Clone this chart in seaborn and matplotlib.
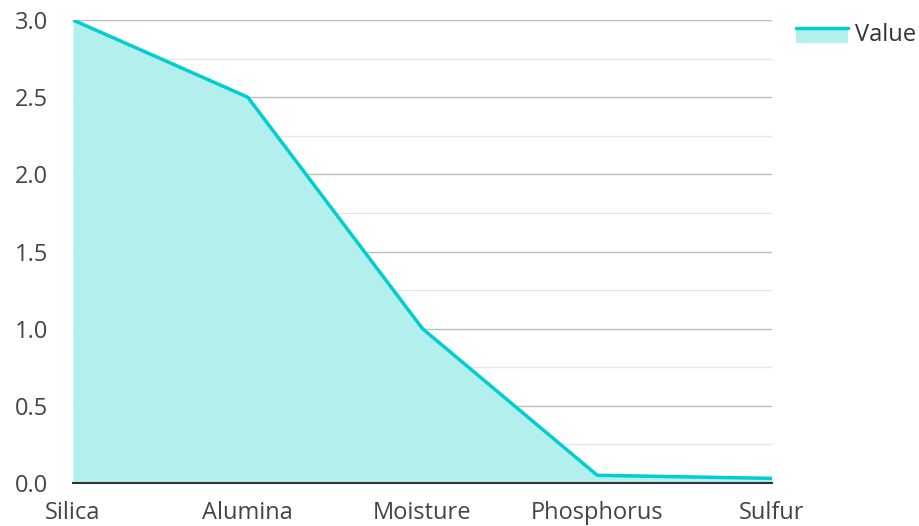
import matplotlib.pyplot as plt
import matplotlib.patches as mpatches
import matplotlib.lines as mlines
from matplotlib.legend_handler import HandlerBase
from matplotlib.ticker import MultipleLocator
import seaborn as sns
import pandas as pd
import numpy as np

categories = ['Silica', 'Alumina', 'Moisture', 'Phosphorus', 'Sulfur']
values = [3.0, 2.5, 1.0, 0.05, 0.03]

line_color = '#00CED1'
fill_color = '#B2EFED'


class AreaHandler(HandlerBase):
    # line along the top edge, filled block underneath
    def create_artists(self, legend, orig_handle, xdescent, ydescent,
                       width, height, fontsize, trans):
        top = height * 0.75
        rect = mpatches.Rectangle((-xdescent, -ydescent - height * 0.15), width, top + height * 0.15,
                                  facecolor=fill_color, edgecolor='none', transform=trans)
        line = mlines.Line2D([-xdescent, -xdescent + width], [top, top],
                             color=line_color, linewidth=2.5, transform=trans)
        return [rect, line]


sns.set_theme(style='white')
plt.rcParams['font.family'] = ['Open Sans', 'DejaVu Sans']

df = pd.DataFrame({'component': categories, 'value': values})

fig = plt.figure(figsize=(9.19, 5.26), dpi=100)
ax = fig.add_axes([73 / 919, 1 - 483 / 526, (772 - 73) / 919, (483 - 20) / 526])

x = np.arange(len(categories))
ax.fill_between(x, df['value'], 0, color=fill_color, linewidth=0, zorder=2)
sns.lineplot(data=df, x='component', y='value', ax=ax, color=line_color,
             linewidth=2.5, sort=False, zorder=3)

ax.set_xlim(0, len(categories) - 1)
ax.set_ylim(0, 3.0)
ax.yaxis.set_major_locator(MultipleLocator(0.5))
ax.yaxis.set_minor_locator(MultipleLocator(0.25))
ax.grid(True, which='major', axis='y', color='#bdbdbd', linewidth=1, zorder=1)
ax.grid(True, which='minor', axis='y', color='#e6e6e6', linewidth=1, zorder=1)
ax.set_axisbelow(True)

for side in ['top', 'right', 'left']:
    ax.spines[side].set_visible(False)
ax.spines['bottom'].set_color('#333333')
ax.spines['bottom'].set_linewidth(1.5)
ax.spines['bottom'].set_zorder(4)

ax.set_xlabel('')
ax.set_ylabel('')
ax.set_yticks(np.arange(0, 3.01, 0.5))
ax.set_yticklabels([f'{v:.1f}' for v in np.arange(0, 3.01, 0.5)])
ax.tick_params(axis='both', which='both', length=0, labelsize=17, colors='#444444')
ax.tick_params(axis='y', pad=18)
ax.tick_params(axis='x', pad=13)

proxy = mpatches.Patch()
leg = fig.legend([proxy], ['Value'], loc='upper right', bbox_to_anchor=(1.01, 0.979),
                 frameon=False, fontsize=17, handlelength=2.2, handleheight=0.7,
                 handletextpad=0.3, borderaxespad=0.1,
                 handler_map={mpatches.Patch: AreaHandler()})
for t in leg.get_texts():
    t.set_color('#333333')

fig.savefig('out.png', dpi=100)
